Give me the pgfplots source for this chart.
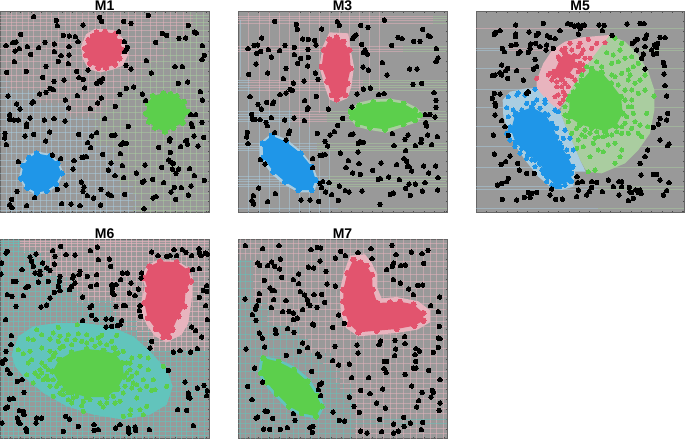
\documentclass[border=0pt]{standalone}
\usepackage{fontspec}
\setmainfont{Liberation Sans}
\usepackage{pgfplots}
\pgfplotsset{compat=1.18}
\definecolor{bggray}{RGB}{153,153,153}
\definecolor{cred}{RGB}{226,84,110}
\definecolor{cgreen}{RGB}{92,207,76}
\definecolor{cblue}{RGB}{31,150,232}
\definecolor{pred}{RGB}{232,180,190}
\definecolor{pgreen}{RGB}{170,205,160}
\definecolor{pblue}{RGB}{170,205,225}
\definecolor{pteal}{RGB}{98,196,188}
\pgfplotsset{
  panel/.style={
    scale only axis, y dir=reverse, clip=true,
    axis background/.style={fill=bggray},
    axis line style={black!60,line width=0.5pt},
    tick style={black!70,line width=0.3pt}, major tick length=1pt,
    tick align=inside, xticklabels={}, yticklabels={},
    title style={font=\fontsize{10.5}{11}\bfseries\selectfont,yshift=-9pt},
  },
  blk/.style={only marks,mark=*,mark size=1.7pt,black,mark options={draw=black,fill=black,line width=0pt}},
  dots/.style={color=#1,only marks,mark=*,mark size=1.55pt,mark options={draw=#1,fill=#1,line width=0pt}},
  blob/.style={fill=#1,draw=none,mark=*,mark size=2pt,mark options={draw=#1,fill=#1,line width=0pt}},
  pale/.style={fill=#1,draw=none,mark=none},
  gr/.style={#1,line width=0.3pt,opacity=0.5,mark=none},
}
\newcommand\vl[4]{\pgfplotsinvokeforeach{#2}{\addplot[gr=#1] coordinates {(##1,#3)(##1,#4)};}}
\newcommand\hl[4]{\pgfplotsinvokeforeach{#2}{\addplot[gr=#1] coordinates {(#3,##1)(#4,##1)};}}
\begin{document}
\begin{tikzpicture}
\path[use as bounding box] (0pt,0pt) rectangle (513.75pt,-330pt);

% M1
\begin{axis}[panel,at={(0pt,-8.75pt)},anchor=north west,width=157pt,height=150.75pt,
  xmin=0,xmax=628,ymin=35,ymax=638,title={M1},xtick={0,31,...,628},ytick={35,65,...,638}]
\vl{pred}{20,35,50,68,85,100}{35}{270}\vl{pblue}{20,35,50,68,85,100}{270}{638}
\vl{pred}{120,138,155,175,195}{35}{310}\vl{pblue}{120,138,155,175,195}{310}{638}
\vl{pred}{212,230,248,265}{35}{350}\vl{pblue}{212,230,248,265}{350}{638}
\vl{pred}{285,302,320,340}{35}{330}\vl{pgreen}{285,302,320,340}{330}{440}\vl{pblue}{285,302,320,340}{440}{638}
\vl{pred}{362,385,405}{35}{260}\vl{pgreen}{362,385,405}{260}{580}\vl{pblue}{362,385,405}{580}{638}
\vl{pred}{425,450,470}{35}{190}\vl{pgreen}{425,450,470}{190}{638}
\vl{pred}{490,510,530,550}{35}{110}\vl{pgreen}{490,510,530,550}{110}{638}
\vl{pgreen}{572,590,610}{35}{638}
\hl{pred}{45,55,68,75}{0}{580}\hl{pgreen}{45,55,68,75}{580}{628}
\hl{pred}{92,110}{0}{530}\hl{pgreen}{92,110}{530}{628}
\hl{pred}{128,145,165}{0}{500}\hl{pgreen}{128,145,165}{500}{628}
\hl{pred}{185,205,225}{0}{440}\hl{pgreen}{185,205,225}{440}{628}
\hl{pblue}{245,262}{0}{30}\hl{pred}{245,262}{30}{380}\hl{pgreen}{245,262}{380}{628}
\hl{pblue}{280,298}{0}{110}\hl{pred}{280,298}{110}{350}\hl{pgreen}{280,298}{350}{628}
\hl{pblue}{318,338}{0}{200}\hl{pred}{318,338}{200}{310}\hl{pgreen}{318,338}{310}{628}
\hl{pblue}{358,378,398,420}{0}{295}\hl{pgreen}{358,378,398,420}{295}{628}
\hl{pblue}{440,460,480}{0}{330}\hl{pgreen}{440,460,480}{330}{628}
\hl{pblue}{500,520,540}{0}{360}\hl{pgreen}{500,520,540}{360}{628}
\hl{pblue}{560,580,600,620,630}{0}{400}\hl{pgreen}{560,580,600,620,630}{400}{628}
\addplot[pale=pred] coordinates {(285,86)(340,90)(372,118)(384,165)(368,197)(335,210)(300,217)(265,207)(248,175)(243,140)(258,103)} -- cycle;
\addplot[blob=cred] coordinates {(290,97)(315,95)(345,102)(358,125)(370,150)(358,175)(345,193)(318,203)(295,203)(270,190)(258,165)(255,145)(265,120)(278,108)} -- cycle;
\addplot[blob=cgreen] coordinates {(490,280)(512,282)(530,288)(552,305)(563,335)(548,368)(520,383)(495,395)(465,383)(447,365)(438,340)(443,310)(458,288)} -- cycle;
\addplot[pale=pblue] coordinates {(110,454)(150,462)(178,488)(191,520)(172,558)(140,578)(110,585)(78,568)(57,535)(65,493)(83,468)} -- cycle;
\addplot[blob=cblue] coordinates {(110,460)(150,468)(172,490)(185,520)(168,553)(140,572)(110,578)(82,563)(63,535)(70,497)(87,473)} -- cycle;
\addplot[blk] coordinates {(101,50)(169,61)(172,77)(299,52)(305,64)(249,75)(371,64)(393,70)(445,46)(565,76)(583,96)(589,99)(487,100)(500,106)(356,95)(62,103)(190,106)(208,108)(226,110)(234,125)(18,137)(38,128)(48,126)(58,146)(45,153)(82,140)(92,163)(116,143)(135,127)(163,132)(163,155)(207,140)(207,165)(183,167)(175,184)(205,191)(43,185)(138,199)(79,214)(20,217)(128,232)(162,244)(192,240)(230,214)(237,233)(250,238)(264,210)(373,125)(382,142)(378,150)(374,155)(467,127)(537,115)(557,114)(607,137)(613,166)(606,179)(439,182)(378,196)(393,207)(525,200)(547,200)(454,219)(535,250)(563,246)(601,275)(607,300)(379,265)(401,261)(427,282)(437,302)(308,236)(297,243)(290,250)(303,246)(254,264)(360,283)(150,265)(160,269)(138,277)(119,282)(24,288)(232,287)(196,300)(304,294)(293,309)(100,305)(96,309)(50,312)(60,327)(206,324)(271,326)(346,319)(29,344)(29,358)(41,360)(55,360)(90,354)(80,372)(79,380)(133,360)(162,356)(195,363)(314,356)(572,344)(587,344)(606,367)(574,371)(577,380)(385,379)(15,400)(14,414)(19,434)(75,408)(101,403)(149,396)(236,403)(275,408)(290,398)(335,406)(345,405)(137,423)(263,428)(272,443)(363,434)(369,428)(373,431)(379,430)(361,461)(510,416)(509,423)(560,421)(582,408)(611,412)(557,423)(562,432)(594,438)(542,440)(476,442)(511,457)(308,463)(246,472)(251,471)(259,470)(222,482)(157,465)(182,476)(55,485)(506,480)(512,486)(520,490)(333,489)(367,497)(435,495)(485,502)(517,507)(536,507)(569,506)(219,507)(325,510)(345,527)(371,533)(409,519)(528,520)(583,527)(458,538)(432,543)(427,546)(491,548)(613,541)(244,546)(198,555)(252,561)(249,574)(172,568)(303,568)(51,574)(523,562)(544,563)(573,558)(513,576)(262,587)(281,594)(324,582)(334,587)(374,583)(565,585)(459,594)(468,590)(527,598)(104,593)(35,598)(29,614)(36,623)(80,617)(185,611)(213,612)(240,617)(302,615)(432,626)};
\end{axis}

% M3
\begin{axis}[panel,at={(178.5pt,-8.75pt)},anchor=north west,width=156.75pt,height=150.75pt,
  xmin=24,xmax=651,ymin=35,ymax=638,title={M3},xtick={24,55,...,651},ytick={35,65,...,638}]
\vl{pred}{55,88}{35}{260}\vl{pblue}{55,88}{260}{638}
\vl{pred}{118,148,178}{35}{330}\vl{pblue}{118,148,178}{330}{638}
\vl{pred}{208,238}{35}{380}\vl{pblue}{208,238}{380}{638}
\vl{pred}{268,298}{35}{340}\vl{pblue}{268,298}{450}{638}
\vl{pred}{328,358,388,418,448}{35}{270}
\hl{pred}{48,55,62,70}{24}{610}\hl{pgreen}{48,55,62,70}{610}{651}
\hl{pred}{140,148,155}{24}{520}\hl{pgreen}{140,148,155}{520}{651}
\hl{pblue}{240,248,255,262,270}{24}{60}\hl{pred}{240,248,255,262,270}{60}{400}\hl{pgreen}{240,248,255,262,270}{400}{651}
\hl{pblue}{335,342,350,358,365}{24}{185}\hl{pred}{335,342,350,358,365}{185}{290}\hl{pgreen}{335,342,350,358,365}{290}{651}
\hl{pblue}{430,438,445,452}{24}{260}\hl{pgreen}{430,438,445,452}{260}{651}
\hl{pblue}{530,538,545,552,560}{24}{295}\hl{pgreen}{530,538,545,552,560}{295}{651}
\hl{pblue}{625}{24}{325}\hl{pgreen}{625}{325}{651}
\addplot[gr=pblue] coordinates {(30,60)(30,230)};
\addplot[pale=pred] coordinates {(298,97)(355,100)(362,150)(372,200)(364,260)(352,295)(320,308)(298,298)(285,262)(268,200)(278,140)} -- cycle;
\addplot[blob=cred] coordinates {(298,118)(320,112)(340,125)(358,150)(362,205)(352,250)(346,285)(320,298)(305,285)(292,245)(275,200)(282,150)} -- cycle;
\addplot[pale=pgreen] coordinates {(355,335)(385,308)(430,298)(480,296)(520,303)(560,323)(580,345)(560,367)(520,380)(470,398)(420,390)(380,380)(360,357)} -- cycle;
\addplot[blob=cgreen] coordinates {(362,335)(388,316)(430,306)(480,304)(520,311)(555,330)(570,345)(555,360)(520,372)(465,388)(420,382)(383,372)(366,352)} -- cycle;
\addplot[pale=pblue] coordinates {(88,430)(125,400)(170,418)(215,455)(250,498)(264,540)(252,577)(205,577)(160,552)(125,522)(90,475)} -- cycle;
\addplot[blob=cblue] coordinates {(98,430)(125,407)(168,425)(212,460)(245,500)(257,540)(245,570)(205,570)(165,545)(130,515)(100,472)} -- cycle;
\addplot[blk] coordinates {(134,64)(199,73)(202,88)(322,65)(328,76)(275,87)(392,76)(414,82)(463,60)(578,88)(595,107)(600,110)(504,112)(516,116)(378,105)(95,114)(218,117)(235,118)(254,121)(258,135)(54,146)(72,136)(83,135)(92,154)(80,160)(115,149)(124,171)(149,152)(165,136)(193,142)(193,164)(234,148)(235,172)(212,175)(203,190)(233,198)(78,192)(168,205)(113,219)(56,223)(160,236)(190,249)(222,243)(256,219)(264,238)(368,116)(372,110)(395,133)(405,150)(400,158)(412,162)(485,136)(551,124)(570,124)(619,146)(624,174)(618,185)(457,188)(399,201)(415,210)(539,207)(561,207)(471,225)(549,253)(575,250)(612,278)(618,301)(400,267)(421,264)(446,284)(462,281)(381,282)(180,268)(168,279)(187,271)(150,284)(60,290)(259,289)(224,302)(110,307)(131,306)(128,311)(84,313)(94,327)(234,323)(232,328)(295,327)(366,321)(65,343)(67,357)(75,358)(90,359)(124,353)(108,367)(112,377)(164,360)(192,354)(223,362)(338,355)(586,344)(600,343)(618,322)(615,351)(587,368)(590,378)(323,376)(52,397)(50,411)(54,431)(134,398)(179,393)(176,401)(168,420)(262,400)(300,405)(313,395)(362,404)(369,402)(487,401)(534,405)(525,418)(593,405)(622,410)(574,418)(573,428)(605,434)(556,437)(492,437)(285,424)(293,438)(385,430)(391,425)(400,427)(384,456)(527,452)(331,459)(270,466)(278,465)(285,464)(248,476)(91,479)(105,492)(522,476)(530,484)(537,500)(355,482)(387,491)(453,489)(500,494)(581,498)(617,498)(532,500)(545,513)(248,503)(348,503)(368,519)(391,523)(428,511)(596,519)(624,533)(445,538)(451,536)(476,531)(508,539)(537,552)(556,552)(585,548)(527,565)(297,548)(278,545)(275,563)(270,550)(86,564)(136,581)(328,558)(346,572)(357,576)(396,573)(287,576)(305,584)(577,573)(623,570)(490,579)(481,583)(541,586)(70,587)(66,602)(71,612)(113,605)(213,600)(240,600)(266,604)(325,601)(450,613)};
\end{axis}

% M5
\begin{axis}[panel,at={(357pt,-8.75pt)},anchor=north west,width=156.25pt,height=150.75pt,
  xmin=33,xmax=658,ymin=35,ymax=638,title={M5},xtick={33,64,...,658},ytick={35,65,...,638}]
\hl{pred}{85}{33}{400}\hl{pgreen}{85}{400}{658}
\hl{pblue}{145,150}{33}{130}\hl{pred}{145,150}{130}{350}\hl{pgreen}{145,150}{350}{658}
\hl{pblue}{205}{33}{110}\hl{pred}{205}{110}{340}\hl{pgreen}{205}{340}{658}
\hl{pblue}{268}{33}{200}\hl{pgreen}{268}{300}{658}
\hl{pblue}{322,380,440,503}{33}{300}\hl{pgreen}{322,380,440,503}{300}{658}
\hl{pblue}{560,568,625}{33}{400}\hl{pgreen}{560,568,625}{400}{658}
\addplot[pale=pred] coordinates {(215,240)(235,190)(262,150)(300,125)(350,112)(435,105)(405,150)(370,190)(330,255)(300,300)(280,330)(240,300)(215,265)} -- cycle;
\addplot[pale=pgreen] coordinates {(435,105)(480,125)(520,165)(550,215)(568,270)(568,330)(555,400)(520,450)(480,490)(410,520)(365,515)(345,480)(320,420)(300,375)(285,335)(305,290)(340,230)(385,170)} -- cycle;
\addplot[pale=pblue] coordinates {(113,300)(135,275)(185,265)(215,265)(245,300)(285,335)(300,375)(320,420)(345,480)(362,515)(330,515)(325,560)(290,570)(255,560)(220,530)(180,480)(140,420)(115,350)} -- cycle;
\addplot[blob=cred] coordinates {(268,215)(285,178)(300,158)(328,168)(332,195)(310,225)(290,238)(268,228)} -- cycle;
\addplot[blob=cblue] coordinates {(152,340)(200,322)(240,342)(263,380)(283,430)(308,470)(322,500)(318,543)(275,558)(247,530)(225,490)(190,463)(152,428)(138,390)} -- cycle;
\addplot[blob=cgreen] coordinates {(314,290)(350,242)(380,208)(410,217)(438,250)(468,290)(473,340)(453,378)(420,393)(380,383)(345,373)(312,350)} -- cycle;
\addplot[dots=cred] coordinates {(370,118)(420,128)(395,130)(380,145)(350,160)(360,175)(345,190)(375,175)(340,140)(315,130)(300,145)(280,170)(255,220)(260,240)(215,235)(320,230)(340,215)(330,240)(310,260)(295,275)(270,290)(275,260)(285,310)(300,285)(345,130)(355,210)(250,225)(275,245)(300,250)(340,170)(355,150)(320,150)(290,150)(345,205)(355,195)(290,260)(280,285)(295,300)};
\addplot[dots=cgreen] coordinates {(450,115)(470,130)(425,158)(445,165)(465,150)(480,175)(500,170)(505,200)(490,210)(520,190)(440,190)(460,185)(525,240)(510,250)(490,240)(540,270)(567,288)(520,280)(500,300)(545,340)(525,375)(548,380)(500,385)(490,400)(505,340)(485,350)(470,400)(450,430)(430,435)(470,450)(415,455)(385,430)(355,440)(375,470)(335,445)(400,450)(450,490)(370,515)(390,510)(465,470)(340,420)(320,400)(350,405)(400,410)(440,405)(520,400)(530,410)(470,380)(410,200)(395,185)(380,205)(500,270)(480,270)(470,220)(450,230)(495,225)(540,225)(315,340)(310,300)(300,345)(360,410)(415,410)(365,200)(350,225)(335,255)(440,225)(480,300)(490,320)(480,370)(455,395)(425,405)(395,395)(360,390)(335,385)(310,365)(300,320)(325,275)(460,255)(500,320)(510,365)(375,400)(390,415)};
\addplot[dots=cblue] coordinates {(210,268)(160,278)(130,290)(125,323)(155,285)(180,285)(215,300)(240,310)(150,345)(135,380)(125,400)(150,440)(155,350)(225,325)(270,330)(280,335)(300,390)(315,415)(325,450)(165,460)(185,475)(210,500)(245,525)(260,555)(285,560)(300,540)(320,520)(240,300)(185,310)(170,330)(260,370)(290,440)(230,510)(200,480)(145,330)(130,350)(205,310)(225,345)(250,345)(275,385)(275,410)(295,415)(305,450)(170,445)(210,480)(245,545)(235,520)(300,555)(135,420)(160,420)};
\addplot[blk] coordinates {(152,75)(235,70)(308,71)(318,73)(328,78)(340,75)(350,78)(358,75)(345,85)(402,75)(417,76)(486,72)(525,70)(537,71)(105,92)(92,97)(88,103)(192,96)(152,102)(152,110)(220,100)(214,106)(247,107)(254,112)(285,92)(340,102)(412,92)(270,116)(545,105)(540,116)(517,118)(510,123)(502,130)(585,112)(600,113)(441,106)(138,136)(153,133)(112,145)(118,155)(197,132)(212,130)(195,145)(225,140)(245,135)(165,155)(160,160)(190,157)(243,150)(210,178)(265,145)(578,130)(575,142)(568,135)(560,150)(540,140)(515,150)(535,162)(575,160)(565,162)(530,175)(595,187)(598,197)(110,195)(128,205)(122,212)(105,218)(90,225)(82,227)(110,225)(128,235)(155,212)(175,240)(205,207)(215,200)(597,222)(540,207)(600,257)(190,275)(185,280)(88,280)(105,282)(82,295)(90,310)(92,318)(605,288)(90,345)(110,362)(120,380)(85,405)(130,406)(608,340)(585,355)(605,360)(580,372)(565,382)(612,432)(608,437)(585,420)(88,462)(135,468)(122,485)(108,493)(158,490)(548,450)(540,470)(525,490)(163,510)(185,520)(208,520)(528,525)(565,523)(575,523)(585,540)(612,548)(130,535)(125,545)(110,550)(97,555)(336,530)(352,545)(338,548)(380,545)(395,547)(430,540)(462,545)(470,545)(470,560)(445,560)(380,562)(365,585)(373,575)(412,575)(340,570)(260,567)(272,598)(292,597)(190,577)(200,580)(215,577)(195,592)(178,592)(155,600)(112,598)(335,590)(462,585)(493,562)(495,575)(500,578)(512,570)(525,570)(528,580)(520,578)(605,572)(595,585)(505,595)(490,602)(255,585)};
\end{axis}

% M6
\begin{axis}[panel,at={(0pt,-179.25pt)},anchor=north west,width=157pt,height=149.75pt,
  xmin=0,xmax=628,ymin=58,ymax=657,title={M6},xtick={0,31,...,628},ytick={58,88,...,657},gr/.append style={opacity=0.65}]
\vl{pteal}{10,25,40,55}{58}{657}
\vl{pred}{72,88,105,120}{58}{100}\vl{pteal}{72,88,105,120}{100}{657}
\vl{pred}{135,150,168,185,200,215}{58}{170}\vl{pteal}{135,150,168,185,200,215}{170}{657}
\vl{pred}{232,248,265,282,298,315,330,345}{58}{250}\vl{pteal}{232,248,265,282,298,315,330,345}{250}{657}
\vl{pred}{362,378,395,410,428,445}{58}{330}\vl{pteal}{362,378,395,410,428,445}{330}{657}
\vl{pred}{460,478,495,510,528,545,560,578,595,612}{58}{395}\vl{pteal}{460,478,495,510,528,545,560,578,595,612}{395}{657}
\hl{pteal}{65,72,80}{0}{60}\hl{pred}{65,72,80}{60}{628}
\hl{pteal}{95,110}{0}{110}\hl{pred}{95,110}{110}{628}
\hl{pteal}{125,140,155}{0}{150}\hl{pred}{125,140,155}{150}{628}
\hl{pteal}{170,185,200}{0}{190}\hl{pred}{170,185,200}{190}{628}
\hl{pteal}{215,230}{0}{240}\hl{pred}{215,230}{240}{628}
\hl{pteal}{245,260,275,290}{0}{340}\hl{pred}{245,260,275,290}{340}{628}
\hl{pteal}{305,320,335,350}{0}{410}\hl{pred}{305,320,335,350}{410}{628}
\hl{pteal}{365,380}{0}{440}\hl{pred}{365,380}{440}{628}
\hl{pteal}{395,410,425,440,455,470,485,500,515,530,545,560,575,590,605,620,635,648}{0}{628}
\addplot[pale=pred] coordinates {(435,200)(425,170)(440,140)(470,122)(530,122)(565,145)(578,180)(575,240)(565,310)(545,345)(500,368)(465,350)(440,315)(425,280)(425,240)} -- cycle;
\addplot[blob=cred] coordinates {(433,175)(448,140)(480,125)(530,127)(565,152)(573,185)(557,210)(553,260)(535,290)(517,330)(507,352)(490,352)(467,328)(443,295)(433,250)(443,210)} -- cycle;
\addplot[pale=pteal] coordinates {(35,405)(55,350)(100,320)(170,310)(250,310)(330,320)(400,350)(450,395)(500,450)(518,500)(500,555)(450,585)(370,600)(280,585)(200,560)(130,520)(70,470)(45,440)} -- cycle;
\addplot[blob=cgreen] coordinates {(178,420)(215,398)(260,388)(310,393)(345,403)(367,430)(372,470)(352,507)(320,532)(260,532)(205,517)(178,490)(158,455)} -- cycle;
\addplot[dots=cgreen] coordinates {(110,330)(125,345)(175,323)(232,315)(160,340)(150,358)(100,360)(85,358)(55,390)(70,402)(90,395)(125,385)(95,420)(125,430)(85,430)(80,465)(100,490)(145,480)(135,440)(260,345)(305,347)(350,347)(235,342)(200,360)(180,385)(245,365)(275,360)(335,365)(345,385)(395,415)(420,410)(445,415)(490,440)(445,450)(420,440)(395,470)(380,460)(420,510)(460,480)(465,510)(500,500)(455,512)(410,535)(440,560)(420,570)(392,570)(370,590)(390,585)(430,585)(345,550)(360,545)(310,562)(250,575)(245,558)(215,550)(160,530)(190,525)(130,480)(150,500)(215,520)(270,540)(320,550)(345,510)(395,505)(375,500)(160,410)(120,450)(180,520)(150,420)(145,450)(165,400)(190,380)(215,375)(260,370)(300,370)(340,385)(370,395)(380,430)(390,450)(370,520)(340,530)(300,550)(250,545)(220,535)(190,510)(160,480)(170,500)(125,460)(140,470)(115,470)(105,460)(180,350)(205,345)(295,355)(320,375)(390,430)(410,460)(430,480)(400,490)(440,500)(410,495)(230,530)(205,540)(150,395)(175,365)(225,360)(285,380)(355,400)(385,480)};
\addplot[blk] coordinates {(22,95)(18,100)(182,80)(158,93)(165,110)(108,103)(90,112)(95,125)(198,105)(225,106)(271,93)(292,82)(295,120)(328,118)(332,140)(128,130)(140,145)(150,152)(100,140)(66,150)(5,130)(3,163)(105,160)(120,155)(120,165)(163,133)(455,97)(474,108)(500,110)(510,108)(522,90)(530,108)(547,90)(558,98)(575,108)(597,87)(598,98)(603,108)(616,100)(622,103)(598,147)(578,150)(240,155)(237,165)(220,168)(290,165)(262,170)(218,175)(225,190)(215,200)(208,210)(180,170)(178,185)(175,200)(163,218)(150,235)(180,213)(145,185)(115,187)(85,200)(78,204)(40,185)(48,185)(36,230)(22,225)(70,228)(48,260)(123,262)(140,256)(248,232)(290,195)(272,200)(335,195)(348,195)(338,205)(337,218)(342,225)(367,160)(382,160)(362,180)(393,190)(425,160)(423,175)(415,208)(388,220)(405,228)(275,258)(270,263)(348,260)(370,258)(376,258)(420,258)(418,273)(422,290)(275,287)(288,300)(17,300)(248,303)(318,298)(335,298)(365,303)(318,322)(335,320)(352,318)(360,315)(610,212)(620,215)(620,198)(598,233)(617,258)(622,300)(575,322)(587,333)(605,352)(450,385)(455,365)(520,397)(540,393)(572,397)(592,387)(34,348)(33,375)(18,395)(15,420)(8,425)(8,430)(22,450)(30,462)(52,485)(66,480)(72,518)(40,537)(28,538)(23,562)(17,565)(58,573)(70,575)(72,585)(52,595)(55,605)(60,612)(6,610)(78,627)(80,635)(110,595)(125,595)(108,610)(197,590)(208,598)(190,635)(235,620)(282,615)(282,632)(295,630)(347,625)(360,615)(385,625)(385,635)(387,640)(405,622)(407,632)(448,630)(580,618)(533,570)(560,572)(505,452)(555,487)(592,505)(612,497)(622,513)(620,528)(565,520)(565,532)(570,535)};
\end{axis}

% M7
\begin{axis}[panel,at={(178.5pt,-179.25pt)},anchor=north west,width=156.75pt,height=149.75pt,
  xmin=24,xmax=651,ymin=58,ymax=657,title={M7},xtick={24,55,...,651},ytick={58,88,...,657}]
\vl{pred}{30,45,60}{58}{120}\vl{pteal}{30,45,60}{120}{657}
\vl{pred}{75,95,115}{58}{260}\vl{pteal}{75,95,115}{260}{657}
\vl{pred}{130,150,170,190,205}{58}{320}\vl{pteal}{130,150,170,190,205}{320}{657}
\vl{pred}{225,245,265,285,300}{58}{400}\vl{pteal}{225,245,265,285,300}{400}{657}
\vl{pred}{320,340,360}{58}{490}\vl{pteal}{320,340,360}{490}{657}
\vl{pred}{380,400,420,440,460,480,500,520,540,560,580,600,620,640}{58}{657}
\hl{pred}{70,85,100}{24}{651}
\hl{pteal}{125,140,165,185,205,230}{24}{70}\hl{pred}{125,140,165,185,205,230}{70}{651}
\hl{pteal}{250,270,290,305}{24}{110}\hl{pred}{250,270,290,305}{110}{651}
\hl{pteal}{320,345}{24}{180}\hl{pred}{320,345}{180}{651}
\hl{pteal}{360,385}{24}{235}\hl{pred}{360,385}{235}{651}
\hl{pteal}{410,430}{24}{280}\hl{pred}{410,430}{280}{651}
\hl{pteal}{455,475,490,505}{24}{330}\hl{pred}{455,475,490,505}{330}{651}
\hl{pteal}{520,535}{24}{365}\hl{pred}{520,535}{365}{651}
\hl{pteal}{550,565,580,625,640}{24}{375}\hl{pred}{550,565,580,625,640}{375}{651}
\hl{pteal}{600,610}{24}{651}
\addplot[pale=pred] coordinates {(360,108)(405,104)(425,130)(442,165)(442,205)(455,236)(500,232)(565,245)(600,272)(600,308)(562,330)(500,340)(440,345)(385,350)(348,325)(332,282)(330,210)(342,158)} -- cycle;
\addplot[blob=cred] coordinates {(370,120)(392,128)(410,138)(426,165)(428,210)(442,250)(480,248)(510,246)(550,254)(580,280)(580,303)(553,318)(500,328)(440,333)(385,338)(358,313)(345,280)(340,245)(340,210)(352,160)} -- cycle;
\addplot[pale=pteal] coordinates {(92,408)(145,418)(197,443)(238,478)(268,523)(284,560)(264,598)(215,589)(173,568)(133,528)(102,492)(84,460)} -- cycle;
\addplot[blob=cgreen] coordinates {(100,415)(145,426)(192,450)(232,485)(260,528)(275,560)(258,590)(215,580)(177,560)(140,522)(110,488)(93,460)} -- cycle;
\addplot[blk] coordinates {(46,78)(98,87)(147,78)(243,90)(262,83)(272,85)(332,95)(346,108)(384,99)(423,87)(426,117)(486,77)(498,105)(544,97)(576,102)(594,92)(316,115)(151,118)(125,127)(83,130)(89,137)(113,138)(134,140)(149,148)(270,124)(235,142)(251,145)(288,155)(206,163)(155,173)(103,182)(190,180)(206,192)(491,130)(487,140)(470,150)(512,138)(526,136)(581,131)(490,180)(511,190)(536,208)(563,197)(578,196)(550,225)(291,193)(316,199)(120,205)(127,213)(133,213)(88,222)(211,216)(224,226)(252,225)(275,224)(45,238)(86,242)(131,240)(168,243)(232,240)(235,252)(240,257)(284,248)(629,232)(80,258)(76,268)(124,264)(261,263)(218,270)(158,276)(177,275)(190,280)(67,285)(202,295)(190,300)(78,302)(326,286)(602,258)(625,276)(248,313)(251,316)(343,311)(308,323)(628,320)(173,327)(136,330)(138,342)(192,338)(88,340)(97,355)(625,355)(630,357)(524,351)(452,364)(447,375)(495,362)(381,376)(525,372)(558,387)(568,394)(625,383)(610,398)(218,370)(233,384)(104,382)(48,388)(315,380)(384,400)(497,388)(494,408)(555,405)(208,395)(263,403)(268,410)(169,407)(308,423)(326,436)(358,433)(463,425)(470,425)(557,425)(550,445)(558,445)(74,445)(462,447)(468,458)(245,455)(596,452)(525,464)(365,474)(416,474)(630,480)(98,487)(275,490)(268,495)(545,499)(53,500)(265,510)(272,528)(392,512)(458,508)(420,522)(358,532)(607,512)(610,518)(576,518)(603,532)(66,540)(566,543)(372,560)(440,550)(466,565)(630,550)(560,562)(627,572)(105,574)(112,575)(388,578)(190,582)(309,577)(78,595)(83,592)(128,596)(195,602)(328,602)(344,604)(449,599)(521,593)(541,610)(578,608)(491,613)(522,620)(574,630)(101,628)(119,629)(151,629)(172,624)(240,624)(249,620)(247,638)(392,634)(411,640)(455,636)(491,640)(505,634)};
\end{axis}
\end{tikzpicture}
\end{document}
